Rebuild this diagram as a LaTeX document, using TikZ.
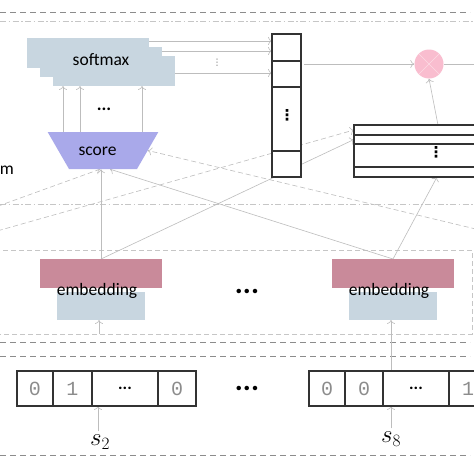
\documentclass[tikz,border=0pt]{standalone}
\usepackage{amsmath,amssymb}
\usepackage{fontspec}
\setmainfont{Carlito}
\setmonofont{Liberation Mono}
\newfontfamily\dotsfont{DejaVu Sans}
\usepackage{tikz}
\usetikzlibrary{arrows.meta, calc, positioning, shapes.geometric, backgrounds}

\definecolor{smblue}{HTML}{C8D6E0}
\definecolor{embred}{HTML}{C98A9A}
\definecolor{scorepurple}{HTML}{A9A9EA}
\definecolor{mulpink}{HTML}{F9BDCF}
\definecolor{linkgray}{HTML}{BDBDBD}
\definecolor{darkdash}{HTML}{8C8C8C}
\definecolor{lightdash}{HTML}{C6C6C6}

\newcommand{\digit}[1]{{\ttfamily\fontsize{20}{20}\selectfont\color{black!45}#1}}
\newcommand{\celldots}{{\bfseries\fontsize{17}{17}\selectfont ...}}

\tikzset{
    blk/.style={rectangle, inner sep=0, outer sep=0, anchor=north west},
    cell/.style={rectangle, draw=black!80, fill=white, line width=1.1pt, inner sep=0, outer sep=0, anchor=north west},
    lbl/.style={font=\fontsize{17.5}{20}\selectfont, anchor=base},
    vdotsbox/.style={font=\dotsfont\bfseries\fontsize{15}{15}\selectfont, inner sep=0},
    link/.style={-{To[length=4pt, width=8pt]}, draw=linkgray, line width=0.6pt},
    dlink/.style={link, dash pattern=on 5pt off 3pt},
    bigdash/.style={draw=darkdash, line width=0.8pt, dash pattern=on 6pt off 4pt},
    smalldash/.style={draw=lightdash, line width=0.6pt, dash pattern=on 5pt off 3pt},
    dashdot/.style={draw=lightdash, line width=0.6pt, dash pattern=on 6pt off 2.5pt on 1.5pt off 2.5pt},
}

\begin{document}
\begin{tikzpicture}[x=1pt, y=-1pt]
        \useasboundingbox (0,0) rectangle (474,474);

        \foreach \i/\x/\y in {1/27/38, 2/40/47, 3/53/56}
            \node[blk, fill=smblue, minimum width=122pt, minimum height=30pt] (sm\i) at (\x,\y) {};
        \node[lbl] (smlbl) at (101,65) {softmax};

        \node[trapezium, trapezium angle=60, shape border rotate=180, fill=scorepurple,
            inner sep=0, text width=68pt, text height=37pt, text depth=0pt] (score) at (103,150.5) {};
        \node[lbl] (scorelbl) at (97.5,155) {score};
        \node[lbl, anchor=base east, inner sep=0] (mlbl) at (14,174) {m};
        \node[font=\bfseries\fontsize{18}{18}\selectfont] (updots) at (104,109) {...};

        \node[cell, minimum width=29pt, minimum height=27pt] (c1) at (272,34) {};
        \node[cell, minimum width=29pt, minimum height=26pt, below=0pt of c1] (c2) {};
        \node[cell, minimum width=29pt, minimum height=64pt, below=0pt of c2] (c3) {};
        \node[cell, minimum width=29pt, minimum height=26pt, below=0pt of c3] (c4) {};
        \node[vdotsbox] (cdots) at (287,115) {⋮};
        \node[vdotsbox, font=\dotsfont\fontsize{9}{9}\selectfont, text=black!55] (sidedots) at (217,63) {⋮};

        \node[cell, minimum width=130pt, minimum height=10pt] (m1) at (354,125) {};
        \node[cell, minimum width=130pt, minimum height=9pt, below=0pt of m1] (m2) {};
        \node[cell, minimum width=130pt, minimum height=23pt, below=0pt of m2] (m3) {};
        \node[cell, minimum width=130pt, minimum height=10pt, below=0pt of m3] (m4) {};
        \node[vdotsbox] (mdots) at (436,152) {⋮};

        \node[circle, fill=mulpink, minimum size=29pt, inner sep=0] (mul) at (429,64) {};
        \draw[white, opacity=0.45, line width=0.5pt] (mul.north west) -- (mul.south east) (mul.north east) -- (mul.south west);

        \foreach \n/\x in {1/40, 8/332} {
            \node[blk, fill=embred, minimum width=122pt, minimum height=29pt] (embr\n) at (\x,259) {};
            \node[blk, fill=smblue, minimum width=88pt, minimum height=28pt] (embb\n) at (\x+17,292) {};
            \node[lbl] (embt\n) at (\x+57,295) {embedding};
        }
        \node[font=\bfseries\fontsize{30}{30}\selectfont] (middots1) at (247,291) {...};
        \node[font=\bfseries\fontsize{30}{30}\selectfont] (middots2) at (247,388) {...};

        \foreach \i/\x/\w/\t in {1/17/36/{\digit{0}}, 2/53/39/{\digit{1}}, 3/92/66/{\celldots}, 4/158/38/{\digit{0}}}
            \node[cell, minimum width=\w pt, minimum height=35pt] (va\i) at (\x,371) {\t};
        \foreach \i/\x/\w/\t in {1/309/36/{\digit{0}}, 2/345/38/{\digit{0}}, 3/383/66/{\celldots}, 4/449/38/{\digit{1}}}
            \node[cell, minimum width=\w pt, minimum height=35pt] (vb\i) at (\x,371) {\t};
        \node[font=\fontsize{24}{24}\selectfont] (s2) at (100,442) {$s_2$};
        \node[font=\fontsize{24}{24}\selectfont] (s8) at (391,439) {$s_8$};

        \coordinate (farleft1) at (-10,209);
        \coordinate (farleft2) at (-10,233);
        \coordinate (farright) at (484,231);
        \coordinate (mulout) at (480,64);
        \coordinate (embin) at (99,334);

        \begin{pgfonlayer}{background}
            \fill[white] (0,0) rectangle (474,474);
            \draw[bigdash] (0,12) -- (470,12) (0,342) -- (470,342) (0,356) -- (470,356) (0,455) -- (470,455);
            \draw[dashdot] (0,21) -- (474,21) (0,204) -- (474,204);
            \draw[smalldash] (-5,250) -- (472,250) -- (472,334) -- (-5,334);

            \foreach \x in {63,80,142}
                \draw[link] (\x,0 |- score.north) -- (\x,0 |- sm3.south);
            \draw[link] (sm1.east |- 0,41) -- (c1.west |- 0,41);
            \draw[link] (sm2.east |- 0,51) -- (c1.west |- 0,51);
            \draw[link] (sm3.east |- 0,73) -- (c2.west |- 0,73);
            \draw[link, shorten <=3pt] (mul.west -| c2.east) -- (mul.west);
            \draw[link, -] (mul.east) -- (mulout);
            \draw[link] ($(m1.north west)+(84,0)$) -- (mul.south);

            \draw[link] (embr1.north) -- (embr1.north |- score.south);
            \draw[link] (embr1.north) -- (m2.west);
            \draw[dlink] (farleft1) -- ($(score.south)+(-3,0)$);
            \draw[dlink] (farleft2) -- (m1.west);
            \draw[dlink] (farright) -- (score.east);
            \draw[link] (embr8.north) -- ($(score.south)+(7,0)$);
            \draw[link] (embr8.north) -- ($(m4.south west)+(83,0)$);

            \draw[link] (embin) -- (embin |- embb1.south);
            \draw[link] (391,0 |- vb3.north) -- (391,0 |- embb8.south);
            \draw[link] (98,0 |- s2.north) -- (98,0 |- va3.south);
            \draw[link] (391,0 |- s8.north) -- (391,0 |- vb3.south);
        \end{pgfonlayer}
\end{tikzpicture}
\end{document}
